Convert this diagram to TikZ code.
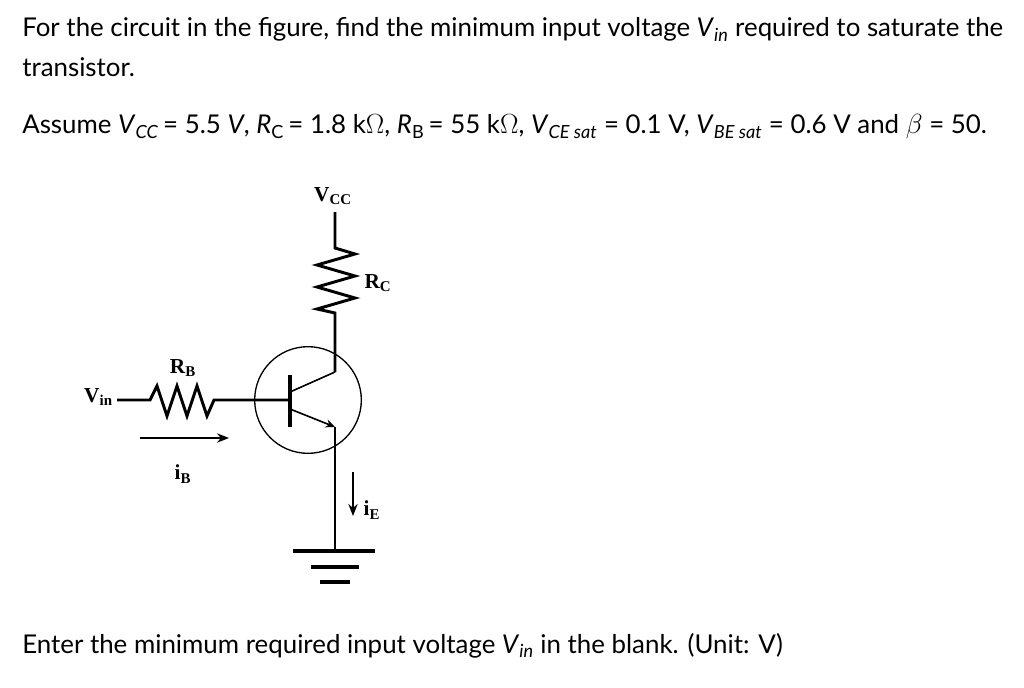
\documentclass[tikz,border=0pt]{standalone}
\usetikzlibrary{arrows.meta}
\usepackage{fontspec}
\setmainfont{Lato}
\newfontfamily\tms{Liberation Serif}
\newcommand{\myv}[1]{\textit{V}\textsubscript{\textit{#1}}}
\newcommand{\myr}[1]{\textit{R}\textsubscript{#1}}
\begin{document}
\begin{tikzpicture}[x=0.75pt,y=-0.75pt,
  w/.style={line width=2.2pt},
  hd/.style={anchor=base west,inner sep=0,font=\fontsize{19.4}{23}\selectfont},
  lb/.style={inner sep=0,font=\tms\bfseries\fontsize{16}{18}\selectfont},
  ar/.style={line width=1.6pt,-{Stealth[length=9pt,width=7pt]}}]
\useasboundingbox (0,0) rectangle (1024,688);
\node[hd] (t1) at (22,37) {For the circuit in the figure, find the minimum input voltage \myv{in} required to saturate the};
\node[hd] (t2) at (22,77) {transistor.};
\node[hd] (t3) at (22,134) {Assume \myv{CC}\,= 5.5 \textit{V}, \myr{C}\,= 1.8 k$\Omega$, \myr{B}\,= 55 k$\Omega$, \myv{CE sat} = 0.1 V, \myv{BE sat} = 0.6 V and $\beta$ = 50.};
\node[hd] (t4) at (22,653) {Enter the minimum required input voltage \myv{in} in the blank. (Unit: V)};
% collector branch
\coordinate (top) at (335,212);
\coordinate (rc1) at (335,248);
\coordinate (rc2) at (335,313);
\coordinate (col) at (335,372);
\draw[w,line join=miter] (top) -- (rc1) -- (355,254) -- (317,265) -- (355,276) -- (317,287) -- (355,298) -- (317,309) -- (rc2) -- (col);
\node[lb] (vcc) at (333,196) {V\textsubscript{CC}};
\node[lb] (rc) at (378,283) {R\textsubscript{C}};
% transistor
\node[draw,circle,minimum size=80,inner sep=0,line width=1pt] (q) at (308,400) {};
\coordinate (bb1) at (290,375);
\coordinate (bb2) at (290,427);
\draw[line width=2.6pt] (bb1) -- (bb2);
\draw[line width=1.2pt] (290,392) -- (col);
\coordinate (emi) at (335,427);
\draw[line width=1.2pt,-{Stealth[length=7pt,width=6pt]}] (290,409) -- (emi);
% base branch
\coordinate (vin) at (117,400);
\coordinate (bw) at (290,400);
\draw[w,line join=miter] (vin) -- (150,400) -- (157,386) -- (167,416) -- (177,386) -- (187,416) -- (197,386) -- (207,416) -- (214,400) -- (bw);
\node[lb,anchor=east] (vinl) at (113,397) {V\textsubscript{in}};
\node[lb] (rb) at (183,368) {R\textsubscript{B}};
\coordinate (ib1) at (140,438);
\coordinate (ib2) at (229,438);
\draw[ar] (ib1) -- (ib2);
\node[lb] (ib) at (183,474) {i\textsubscript{B}};
% emitter to ground
\coordinate (gnd) at (335,551);
\draw[w] (emi) -- (gnd);
\draw[line width=2.6pt] (293,551) -- (375,551);
\draw[line width=2.6pt] (311,567) -- (359,567);
\draw[line width=2.6pt] (320,582) -- (350,582);
\coordinate (ie1) at (353,472);
\coordinate (ie2) at (353,516);
\draw[ar] (ie1) -- (ie2);
\node[lb] (ie) at (372,510) {i\textsubscript{E}};
\end{tikzpicture}
\end{document}
